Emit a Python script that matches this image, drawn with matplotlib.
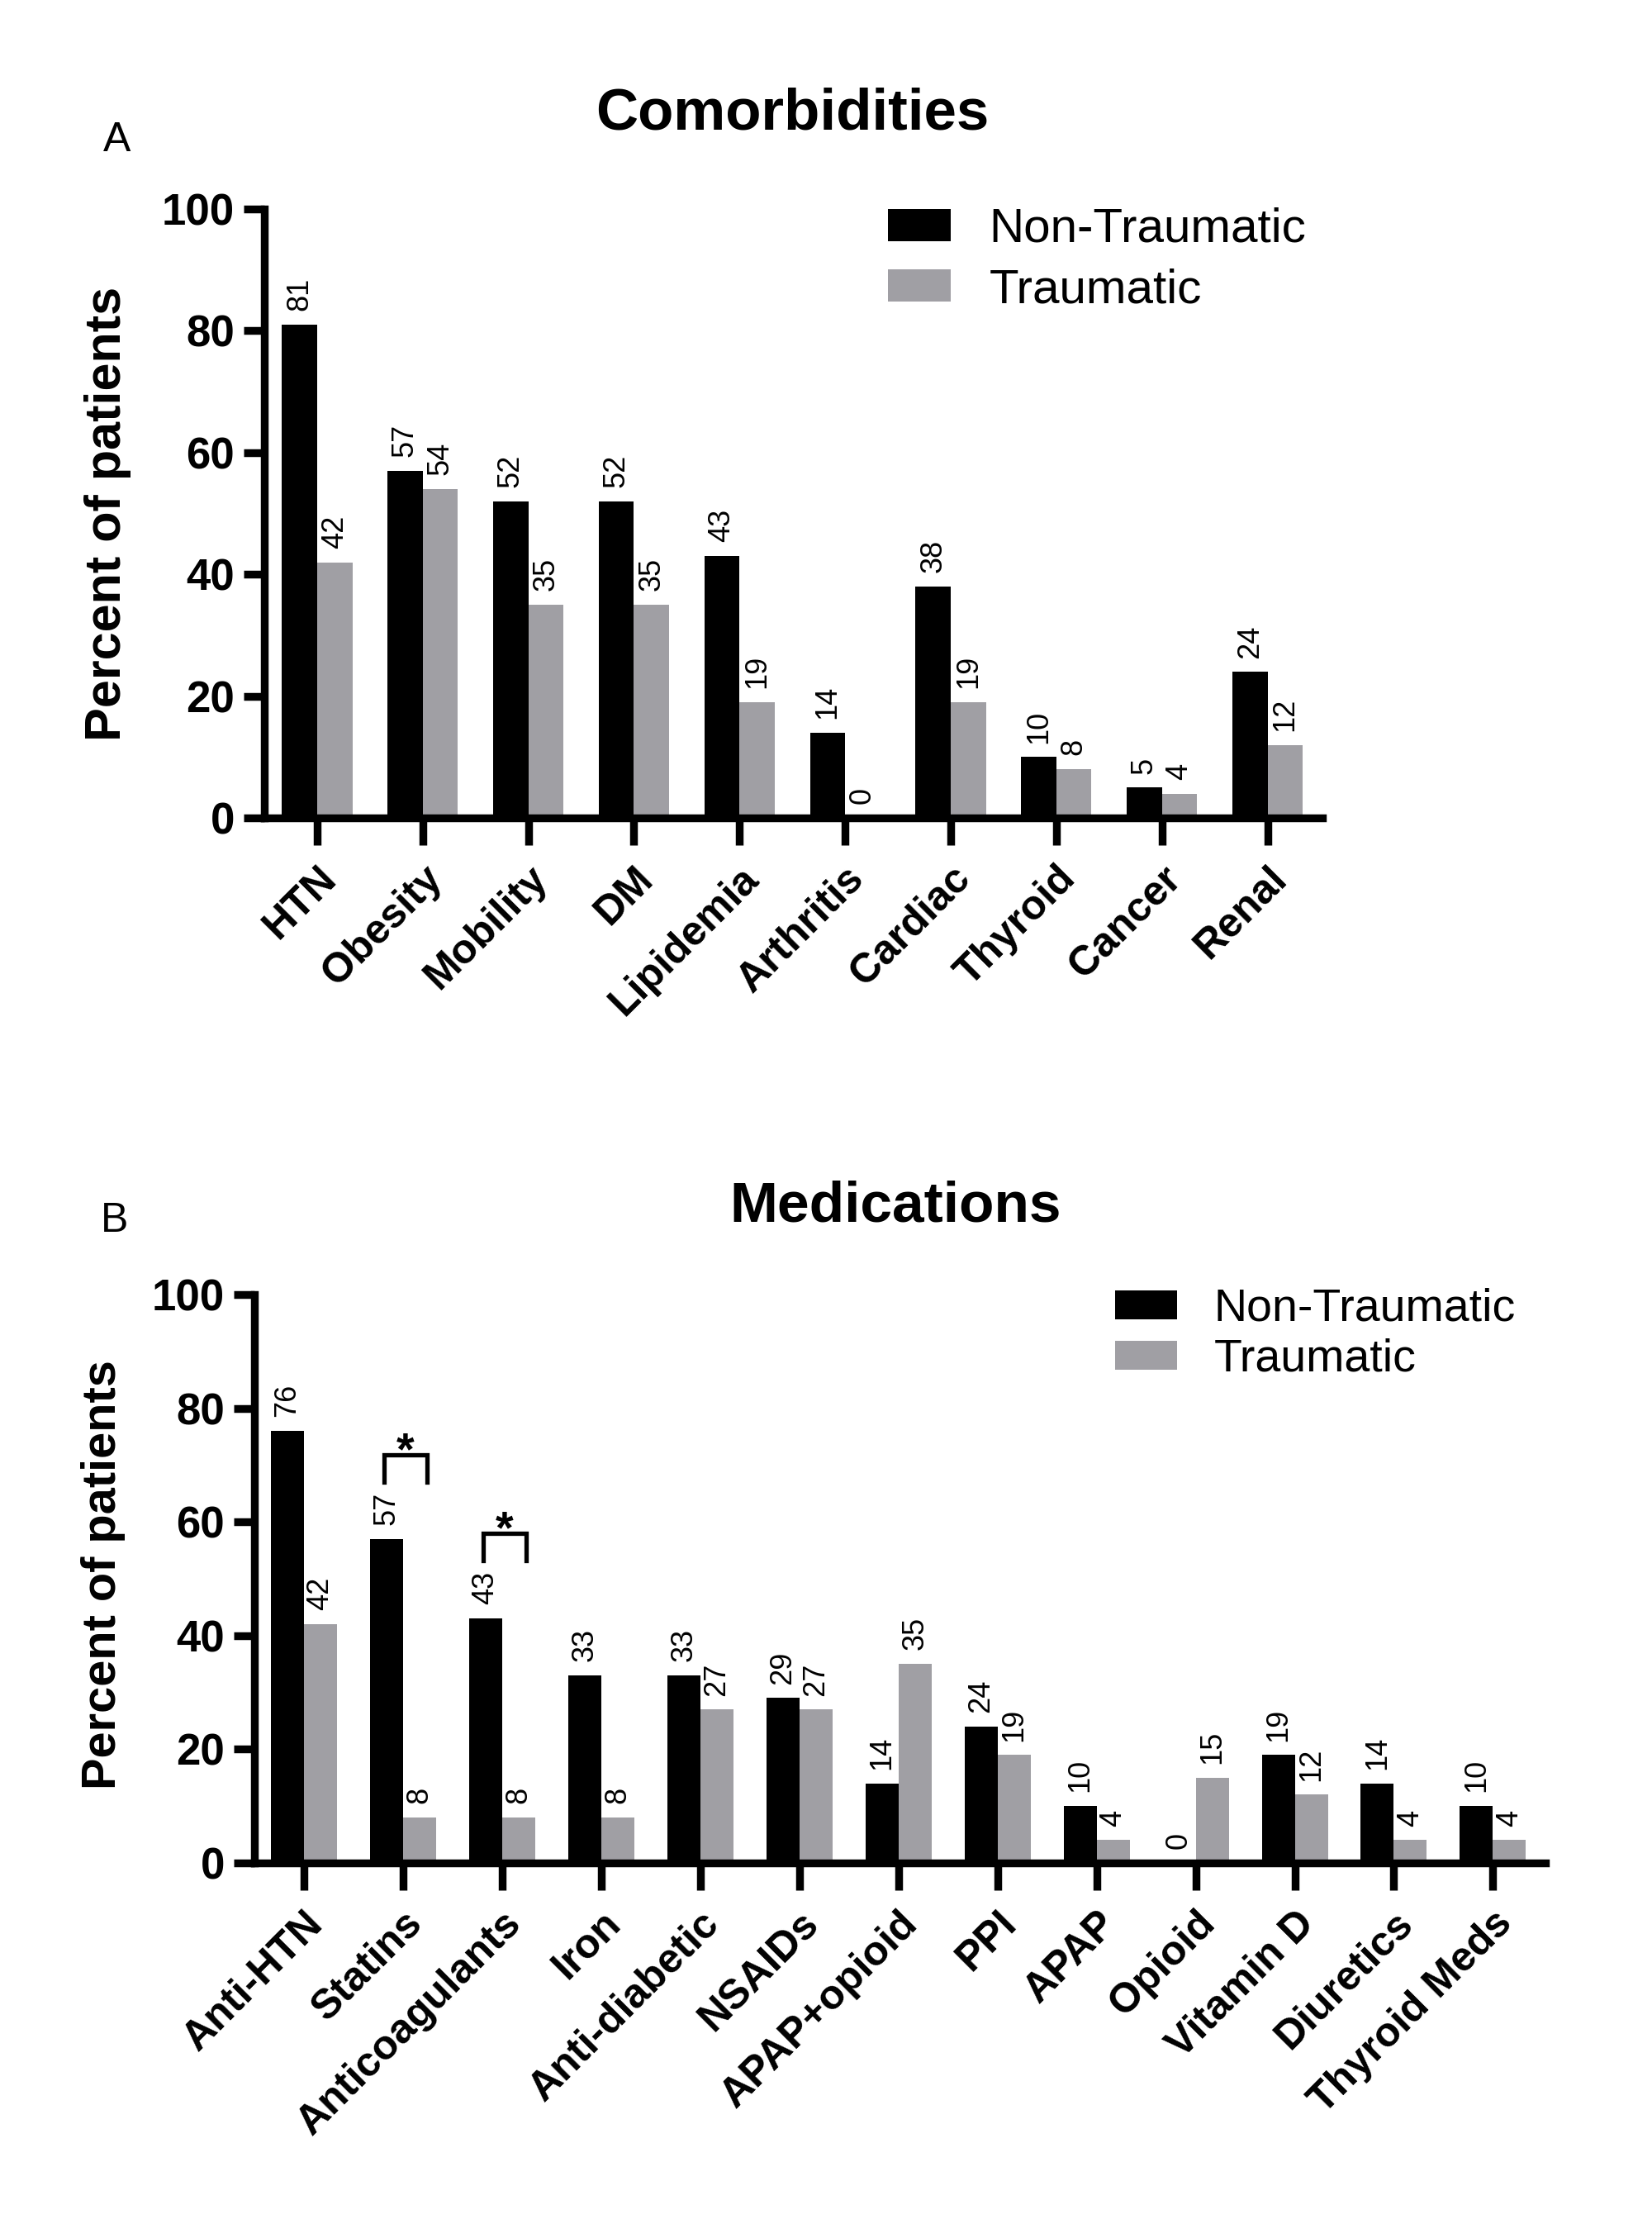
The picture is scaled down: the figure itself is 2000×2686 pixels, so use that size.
import numpy as np
import matplotlib
matplotlib.use("Agg")
import matplotlib.pyplot as plt
from matplotlib.patches import Patch

plt.rcParams['font.family'] = ['Liberation Sans', 'DejaVu Sans']

# data, panel A
comorbidades = ['HTN', 'Obesity', 'Mobility', 'DM', 'Lipidemia', 'Arthritis',
                'Cardiac', 'Thyroid', 'Cancer', 'Renal']
comorbNoTrauma = [81, 57, 52, 52, 43, 14, 38, 10, 5, 24]
comorbTrauma = [42, 54, 35, 35, 19, 0, 19, 8, 4, 12]

# data, panel B
medicamentos = ['Anti-HTN', 'Statins', 'Anticoagulants', 'Iron', 'Anti-diabetic',
                'NSAIDs', 'APAP+opioid', 'PPI', 'APAP', 'Opioid', 'Vitamin D',
                'Diuretics', 'Thyroid Meds']
medsNoTrauma = [76, 57, 43, 33, 33, 29, 14, 24, 10, 0, 19, 14, 10]
medsTrauma = [42, 8, 8, 8, 27, 27, 35, 19, 4, 15, 12, 4, 4]

# significance brackets: (category index, bracket top value)
significativos = [(1, 71.8), (2, 58.0)]

NEGRO = '#000000'
GRIS = '#a09fa4'
W = 1 / 3


def dibujarPanel(ax, categorias, serieA, serieB, xmax):
    x = np.arange(len(categorias))
    b1 = ax.bar(x - W / 2, serieA, W, color=NEGRO, linewidth=0)
    b2 = ax.bar(x + W / 2, serieB, W, color=GRIS, linewidth=0)
    ax.bar_label(b1, rotation=90, padding=6, fontsize=13)
    ax.bar_label(b2, rotation=90, padding=6, fontsize=13)

    ax.set_xlim(-0.5, xmax)
    ax.set_ylim(0, 100)
    ax.set_yticks([0, 20, 40, 60, 80, 100])
    ax.set_xticks(x)
    ax.set_xticklabels(categorias, rotation=45, ha='right', va='top',
                       rotation_mode='anchor', fontsize=18, fontweight='bold')
    for lbl in ax.get_yticklabels():
        lbl.set_fontweight('bold')
        lbl.set_fontsize(19)

    for lado in ['top', 'right']:
        ax.spines[lado].set_visible(False)
    for lado in ['left', 'bottom']:
        ax.spines[lado].set_linewidth(3.4)
    ax.spines['left'].set_capstyle('projecting')
    ax.tick_params(axis='y', length=9, width=3.4, pad=4)
    ax.tick_params(axis='x', length=12, width=3.4, pad=6)
    return b1, b2


fig = plt.figure(figsize=(10, 13.43), dpi=200)

axA = fig.add_axes([0.16, 0.6314, 0.6405, 0.2744])
barA1, barA2 = dibujarPanel(axA, comorbidades, comorbNoTrauma, comorbTrauma, 9.52)

axB = fig.add_axes([0.154, 0.1605, 0.7815, 0.2561])
barB1, barB2 = dibujarPanel(axB, medicamentos, medsNoTrauma, medsTrauma, 12.53)

# brackets de significancia
for idx, alto in significativos:
    x0 = idx - 0.19
    x1 = idx + 0.24
    axB.plot([x0, x0, x1, x1], [alto - 4.8, alto, alto, alto - 4.8],
             color='black', lw=1.9, solid_joinstyle='miter', clip_on=False)
    axB.text((x0 + x1) / 2, alto + 0.4, '*', ha='center', va='center',
             fontsize=20, fontweight='bold')

handles = [Patch(facecolor=NEGRO, label='Non-Traumatic'),
           Patch(facecolor=GRIS, label='Traumatic')]
fig.legend(handles=handles, loc='upper left', bbox_to_anchor=(0.5375, 0.9066),
           frameon=False, fontsize=21, handlelength=1.3, handleheight=0.65,
           handletextpad=0.8, labelspacing=0.33, borderpad=0, borderaxespad=0)
fig.legend(handles=handles, loc='upper left', bbox_to_anchor=(0.675, 0.4196),
           frameon=False, fontsize=20, handlelength=1.35, handleheight=0.6,
           handletextpad=0.8, labelspacing=0.16, borderpad=0, borderaxespad=0)

fig.text(0.4795, 0.9483, 'Comorbidities', ha='center', va='center',
         fontsize=25.5, fontweight='bold')
fig.text(0.542, 0.4564, 'Medications', ha='center', va='center',
         fontsize=25, fontweight='bold')
fig.text(0.071, 0.9368, 'A', ha='center', va='center', fontsize=18)
fig.text(0.0695, 0.4498, 'B', ha='center', va='center', fontsize=18)

fig.text(0.0655, 0.7684, 'Percent of patients', rotation=90, ha='center',
         va='center', fontsize=22, fontweight='bold')
fig.text(0.0626, 0.2903, 'Percent of patients', rotation=90, ha='center',
         va='center', fontsize=20.8, fontweight='bold')

plt.savefig('out.png', dpi=200)
